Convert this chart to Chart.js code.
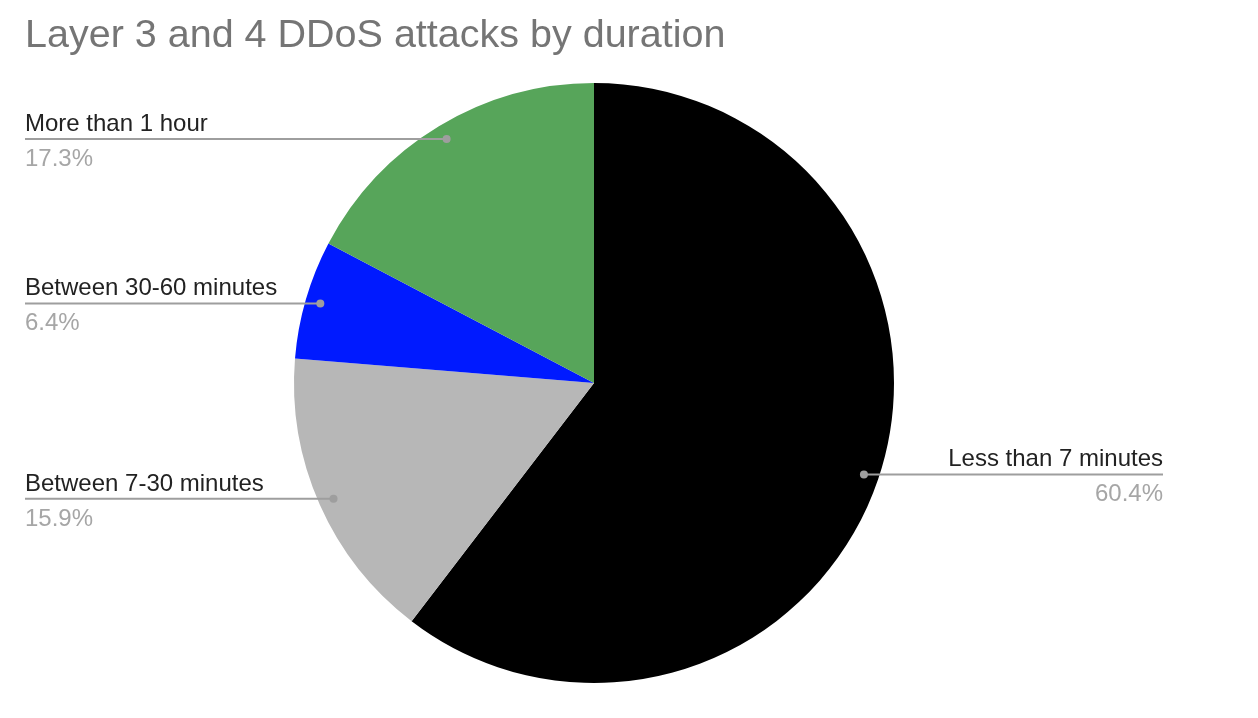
<!DOCTYPE html>
<html>
<head>
<meta charset="utf-8">
<script src="https://cdn.jsdelivr.net/npm/chart.js@4/dist/chart.umd.min.js"></script>
<style>
  html, body { margin: 0; padding: 0; background: #ffffff; }
  #wrap { width: 1258px; height: 718px; position: relative; }
</style>
</head>
<body>
<div id="wrap"><canvas id="pie" width="1258" height="718"></canvas></div>
<script>
const TITLE      = "Layer 3 and 4 DDoS attacks by duration";
const categories = ["Less than 7 minutes", "Between 7-30 minutes", "Between 30-60 minutes", "More than 1 hour"];
const shares     = [60.4, 15.9, 6.4, 17.3];
const colors     = ["#000000", "#b7b7b7", "#001aff", "#57a55a"];

const FONT = "'Liberation Sans', Arial, sans-serif";

/* ── Title + leader labels ─────────────────────────── */
const labelPlugin = {
  id: "leaderLabels",
  afterDraw(chart) {
    const ctx  = chart.ctx;
    const meta = chart.getDatasetMeta(0);
    const total = shares.reduce((a, b) => a + b, 0);

    ctx.save();
    ctx.fillStyle = "#757575";
    ctx.font = `39.5px ${FONT}`;
    ctx.textAlign = "left";
    ctx.textBaseline = "alphabetic";
    ctx.fillText(TITLE, 25, 47);

    meta.data.forEach((arc, i) => {
      const p   = arc.getProps(["x", "y", "startAngle", "endAngle", "outerRadius"], true);
      const mid = (p.startAngle + p.endAngle) / 2;
      const r   = p.outerRadius * 0.95;
      const dx  = p.x + Math.cos(mid) * r;
      const dy  = p.y + Math.sin(mid) * r;
      const left = dx < p.x;
      const edge = left ? 25 : 1163;

      ctx.strokeStyle = "#9e9e9e";
      ctx.lineWidth = 2;
      ctx.beginPath();
      ctx.moveTo(dx, dy);
      ctx.lineTo(edge, dy);
      ctx.stroke();

      ctx.fillStyle = "#9e9e9e";
      ctx.beginPath();
      ctx.arc(dx, dy, 4, 0, Math.PI * 2);
      ctx.fill();

      ctx.textAlign = left ? "left" : "right";
      ctx.font = `24px ${FONT}`;
      ctx.fillStyle = "#222222";
      ctx.fillText(categories[i], edge, dy - 8);
      ctx.fillStyle = "#a6a6a6";
      ctx.fillText((shares[i] / total * 100).toFixed(1) + "%", edge, dy + 27);
    });
    ctx.restore();
  }
};

new Chart(document.getElementById("pie").getContext("2d"), {
  type: "pie",
  data: {
    labels: categories,
    datasets: [{
      data: shares,
      backgroundColor: colors,
      borderWidth: 0,
    }]
  },
  options: {
    responsive: false,
    devicePixelRatio: 1,
    animation: false,
    layout: { padding: { left: 294, right: 364, top: 83, bottom: 35 } },
    plugins: {
      legend: { display: false },
      tooltip: { enabled: false },
      title: { display: false },
    }
  },
  plugins: [labelPlugin]
});
</script>
</body>
</html>
